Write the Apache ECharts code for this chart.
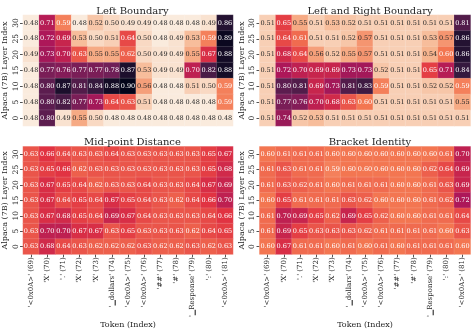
<!DOCTYPE html>
<html><head><meta charset="utf-8">
<script src="https://cdn.jsdelivr.net/npm/echarts@6/dist/echarts.min.js"></script>
<style>html,body{margin:0;padding:0;background:#fff}#c{width:474px;height:330px}</style>
</head><body><div id="c"></div>
<script>
const tokens = ["'<0x0A>' (69)", "'X' (70)", "'.' (71)", "'X' (72)", "'X' (73)", "'\u2581dollars' (74)", "'<0x0A>' (75)", "'<0x0A>' (76)", "'##' (77)", "'#' (78)", "'\u2581Response' (79)", "':' (80)", "'<0x0A>' (81)"];
const layers = ['0', '5', '10', '15', '20', '25', '30'];
const titles = ['Left Boundary', 'Left and Right Boundary', 'Mid-point Distance', 'Bracket Identity'];

// rows listed from layer 30 (top) down to layer 0 (bottom)
const leftBoundary = [
  [0.48,0.71,0.59,0.48,0.52,0.50,0.49,0.49,0.48,0.48,0.48,0.49,0.86],
  [0.48,0.72,0.69,0.53,0.50,0.51,0.64,0.50,0.48,0.49,0.53,0.59,0.89],
  [0.49,0.73,0.70,0.63,0.55,0.55,0.62,0.50,0.49,0.49,0.55,0.67,0.88],
  [0.48,0.77,0.76,0.77,0.77,0.78,0.87,0.53,0.49,0.49,0.70,0.82,0.88],
  [0.48,0.80,0.87,0.81,0.84,0.88,0.90,0.56,0.48,0.48,0.51,0.50,0.59],
  [0.48,0.80,0.82,0.77,0.73,0.64,0.63,0.51,0.48,0.48,0.48,0.48,0.59],
  [0.48,0.80,0.49,0.55,0.50,0.48,0.48,0.48,0.48,0.48,0.48,0.48,0.48]
];
const leftRightBoundary = [
  [0.51,0.65,0.55,0.51,0.53,0.52,0.51,0.51,0.51,0.51,0.51,0.51,0.81],
  [0.51,0.64,0.61,0.51,0.51,0.52,0.57,0.51,0.51,0.51,0.53,0.57,0.86],
  [0.51,0.68,0.64,0.56,0.52,0.55,0.57,0.51,0.51,0.51,0.54,0.60,0.86],
  [0.51,0.72,0.70,0.69,0.69,0.73,0.73,0.52,0.51,0.51,0.65,0.71,0.84],
  [0.51,0.80,0.81,0.69,0.73,0.81,0.83,0.59,0.51,0.51,0.52,0.52,0.59],
  [0.51,0.77,0.76,0.70,0.68,0.63,0.60,0.51,0.51,0.51,0.51,0.51,0.55],
  [0.51,0.74,0.52,0.53,0.51,0.51,0.51,0.51,0.51,0.51,0.51,0.51,0.51]
];
const midpointDistance = [
  [0.63,0.66,0.64,0.63,0.63,0.64,0.63,0.63,0.63,0.63,0.63,0.65,0.67],
  [0.63,0.65,0.66,0.62,0.63,0.63,0.63,0.63,0.63,0.63,0.63,0.65,0.68],
  [0.63,0.67,0.65,0.64,0.62,0.63,0.63,0.64,0.63,0.63,0.64,0.67,0.69],
  [0.63,0.67,0.64,0.65,0.64,0.67,0.65,0.64,0.63,0.62,0.64,0.66,0.70],
  [0.63,0.67,0.68,0.65,0.64,0.69,0.67,0.64,0.63,0.63,0.63,0.64,0.66],
  [0.63,0.70,0.70,0.67,0.67,0.63,0.65,0.63,0.63,0.63,0.62,0.64,0.65],
  [0.63,0.68,0.64,0.63,0.62,0.62,0.62,0.63,0.62,0.62,0.63,0.62,0.63]
];
const bracketIdentity = [
  [0.60,0.61,0.61,0.61,0.60,0.60,0.60,0.60,0.60,0.60,0.60,0.61,0.70],
  [0.61,0.63,0.61,0.61,0.59,0.60,0.60,0.60,0.60,0.60,0.62,0.64,0.69],
  [0.61,0.63,0.62,0.61,0.60,0.61,0.61,0.61,0.60,0.60,0.61,0.63,0.69],
  [0.60,0.65,0.61,0.61,0.61,0.63,0.62,0.60,0.60,0.60,0.61,0.62,0.72],
  [0.61,0.70,0.69,0.65,0.62,0.69,0.65,0.62,0.60,0.60,0.61,0.61,0.64],
  [0.61,0.69,0.65,0.63,0.63,0.63,0.62,0.61,0.61,0.61,0.61,0.60,0.63],
  [0.60,0.67,0.61,0.61,0.60,0.61,0.60,0.61,0.60,0.61,0.61,0.61,0.60]
];
const panels = [leftBoundary, leftRightBoundary, midpointDistance, bracketIdentity];

const vmin = 0.48, vmax = 0.90;
const rocketR = ['#faebdd','#f6b48e','#f37651','#e13342','#ad1759','#701f57','#35193e','#03051a'];

function hex(c){return [1,3,5].map(i=>parseInt(c.substr(i,2),16)/255);}
function colorAt(v){
  let t = Math.max(0, Math.min(1, (v - vmin) / (vmax - vmin))) * (rocketR.length - 1);
  const i = Math.min(rocketR.length - 2, Math.floor(t)), f = t - i;
  const a = hex(rocketR[i]), b = hex(rocketR[i+1]);
  return a.map((x,k)=>x + (b[k]-x)*f);
}
function textColor(v){
  const lin = colorAt(v).map(c => c <= 0.03928 ? c/12.92 : Math.pow((c+0.055)/1.055, 2.4));
  const L = 0.2126*lin[0] + 0.7152*lin[1] + 0.0722*lin[2];
  return L > 0.408 ? '#262626' : '#ffffff';
}

const FONT = 'DejaVu Serif';
const gridPos = [
  {left: 22, top: 15, width: 211, height: 111},
  {left: 259.5, top: 15, width: 211, height: 111},
  {left: 22, top: 146.5, width: 211, height: 111.5},
  {left: 259.5, top: 146.5, width: 211, height: 111.5}
];

const option = {
  animation: false,
  backgroundColor: '#ffffff',
  title: titles.map((t, i) => ({
    text: t,
    left: gridPos[i].left + gridPos[i].width / 2,
    top: gridPos[i].top - 14,
    textAlign: 'center',
    textStyle: {fontFamily: FONT, fontSize: 10, fontWeight: 'normal', color: '#262626'}
  })),
  grid: gridPos.map(g => Object.assign({containLabel: false}, g)),
  xAxis: gridPos.map((g, i) => ({
    type: 'category', gridIndex: i, data: tokens,
    axisLine: {show: false},
    axisTick: {show: i >= 2, length: 3, alignWithLabel: true, lineStyle: {color: '#262626', width: 0.8}},
    axisLabel: {show: i >= 2, rotate: 90, interval: 0, margin: 3, fontFamily: FONT, fontSize: 7, color: '#262626'},
    splitLine: {show: false},
    name: i >= 2 ? 'Token (Index)' : '',
    nameLocation: 'middle', nameGap: 64,
    nameTextStyle: {fontFamily: FONT, fontSize: 8, color: '#262626'}
  })),
  yAxis: gridPos.map((g, i) => ({
    type: 'category', gridIndex: i, data: layers,
    axisLine: {show: false},
    axisTick: {show: true, length: 3, alignWithLabel: true, lineStyle: {color: '#262626', width: 0.8}},
    axisLabel: {rotate: 90, interval: 0, margin: 3, fontFamily: FONT, fontSize: 7.5, color: '#262626'},
    splitLine: {show: false},
    name: 'Alpaca (7B) Layer Index',
    nameLocation: 'middle', nameGap: 14, nameRotate: 90,
    nameTextStyle: {fontFamily: FONT, fontSize: 8, color: '#262626'}
  })),
  visualMap: {
    type: 'continuous', show: false, min: vmin, max: vmax,
    seriesIndex: [0, 1, 2, 3],
    inRange: {color: rocketR}
  },
  series: panels.map((rows, i) => {
    const data = [];
    rows.forEach((row, r) => {
      const y = layers.length - 1 - r;
      row.forEach((v, x) => {
        data.push({value: [x, y, v], label: {color: textColor(v)}});
      });
    });
    return {
      type: 'heatmap', xAxisIndex: i, yAxisIndex: i, data,
      itemStyle: {borderColor: 'rgba(255,255,255,0.25)', borderWidth: 0.5},
      label: {show: true, fontFamily: FONT, fontSize: 6.5,
        formatter: p => p.value[2].toFixed(2)},
      emphasis: {disabled: true}
    };
  })
};
const chart = echarts.init(document.getElementById('c'), null, {renderer: 'canvas'});
chart.setOption(option);
</script>
</body></html>
